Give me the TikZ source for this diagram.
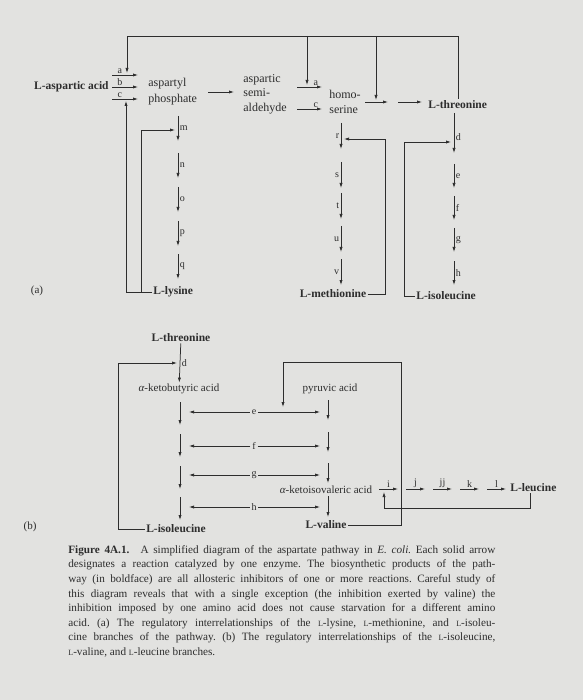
\documentclass[tikz,border=0pt]{standalone}
\usepackage{fontspec}
\setmainfont{Liberation Serif}
\usetikzlibrary{arrows.meta}
\definecolor{ink}{RGB}{45,45,45}
\definecolor{paper}{RGB}{226,226,224}
\tikzset{cmpd/.style = {font=\fontsize{11.5}{12}\selectfont\bfseries, inner sep=1pt},
         inter/.style = {font=\fontsize{12}{14.5}\selectfont, inner sep=1pt, align=left},
         interb/.style = {font=\fontsize{11}{12}\selectfont, inner sep=1pt},
         enz/.style = {font=\fontsize{10}{11}\selectfont, inner sep=1.5pt},
         part/.style = {font=\fontsize{11}{12}\selectfont}}
\newcommand{\Lsc}{{\fontsize{8}{8}\selectfont L}}

\begin{document}
\begin{tikzpicture}[x=1pt, y=-1pt, >={Latex[length=5pt,width=3.2pt]}, line width=0.75pt, ink]
    \fill [paper] (0,0) rectangle (583,700);
    \useasboundingbox (0,0) rectangle (583,700);

    % (a) main pathway
    \node [cmpd, anchor=east] (asp) at (110,87) {L-aspartic acid};
    \node [inter, anchor=west] (aspP) at (147,92) {aspartyl\\[1.5pt]phosphate};
    \node [inter, anchor=west] (asa) at (242,94) {aspartic\\semi-\\aldehyde};
    \node [inter, anchor=west] (hser) at (328,102) {homo-\\serine};
    \node [cmpd, anchor=west] (thr) at (427,105) {L-threonine};

    \foreach \e/\y in {a/75, b/87, c/99}
      \draw [->] (112,\y) -- (138,\y) node [enz, pos=0.3, above] {\e};
    \draw [->] (208,92) -- (234,92);
    \foreach \e/\y in {a/87, c/109}
      \draw [->] (297,\y) -- (322,\y) node [enz, pos=0.75, above] {\e};
    \draw [->] (365,102) -- (388,102);
    \draw [->] (398,102) -- (422,102);

    % threonine feedback
    \draw [->] ([xshift=31pt,yshift=1pt]thr.north west) |- (127,36) -- (127,73);
    \draw [->] (307,36) -- (307,85);
    \draw [->] (376,36) -- (376,100);

    % lysine branch
    \foreach \e/\y in {m/116, n/153, o/187, p/221, q/254}
      \draw [->] (178,\y) -- ++(0,25) node [enz, midway, right] {\e};
    \node [cmpd, anchor=west] (lys) at (152,292) {L-lysine};
    \draw [->] (lys.west) -| (126,101);
    \draw [->] (141,292) |- (175,130);

    % methionine branch
    \foreach \e/\y in {r/123, s/162, t/193, u/226, v/259}
      \draw [->] (341,\y) -- ++(0,26) node [enz, midway, left] {\e};
    \node [cmpd] (met) at (333,294) {L-methionine};
    \draw [->] (met.east) -| (385,139) -- (344,139);

    % isoleucine branch
    \draw [->] (454,113) -- (454,153) node [enz, pos=0.6, right] {d};
    \foreach \e/\y in {e/164, f/196, g/228, h/261}
      \draw [->] (454,\y) -- ++(0,24) node [enz, midway, right] {\e};
    \node [cmpd, anchor=west] (ile) at (415,296) {L-isoleucine};
    \draw [->] (ile.west) -| (404,142) -- (451,142);

    \node [part] (pa) at (37,291) {(a)};

    % (b) isoleucine, valine and leucine
    \node [cmpd] (thrB) at (181,338) {L-threonine};
    \node [interb] (akb) at (179,389) {{\itshape α}-ketobutyric acid};
    \node [interb] (pyr) at (330,389) {pyruvic acid};
    \draw [->] (thrB) -- (akb) node [enz, midway, right] {d};

    \foreach \y in {402, 434, 466, 497}
      \draw [->] (180,\y) -- ++(0,23);
    \foreach \y in {400, 432, 463}
      \draw [->] (328,\y) -- ++(0,20);
    \node [interb] (kiv) at (326,490) {{\itshape α}-ketoisovaleric acid};
    \node [cmpd] (val) at (326,525) {L-valine};
    \node [cmpd] (ileB) at (176,529) {L-isoleucine};
    \draw [->] (328,496) -- (328,517);

    \foreach \e/\y in {e/412, f/446, g/475, h/507} {
      \node [enz] (r\e) at (254,\y) {\e};
      \draw [->] (r\e) -- (189,\y);
      \draw [->] (r\e) -- (320,\y);
    }

    % feedback loops
    \draw [->] (ileB.west) -| (118,363) -- (177,363);
    \draw [->] (val.east) -| (401,362) -| (283,407);

    % leucine branch
    \node [cmpd, anchor=west] (leu) at (509,488) {L-leucine};
    \foreach \e/\x in {i/379, j/406, jj/433, k/460, l/487}
      \draw [->] (\x,489) -- ++(19,0) node [enz, midway, above] {\e};
    \draw [->] ([xshift=21pt]leu.south west) |- (384,508) -- (384,492);

    \node [part] (pb) at (30,527) {(b)};

    % caption
    \node [anchor=north west, inner sep=0pt, text width=427pt, align=justify,
           font=\fontsize{11.2}{14.6}\selectfont\frenchspacing] (cap) at (68,545)
      {\textbf{Figure 4A.1.}\quad A simplified diagram of the aspartate pathway in \textit{E. coli.} Each solid arrow\linebreak
       designates a reaction catalyzed by one enzyme. The biosynthetic products of the path-\linebreak
       way (in boldface) are all allosteric inhibitors of one or more reactions. Careful study of\linebreak
       this diagram reveals that with a single exception (the inhibition exerted by valine) the\linebreak
       inhibition imposed by one amino acid does not cause starvation for a different amino\linebreak
       acid. (a) The regulatory interrelationships of the \Lsc-lysine, \Lsc-methionine, and \Lsc-isoleu-\linebreak
       cine branches of the pathway. (b) The regulatory interrelationships of the \Lsc-isoleucine,\linebreak
       \Lsc-valine, and \Lsc-leucine branches.};
\end{tikzpicture}
\end{document}
